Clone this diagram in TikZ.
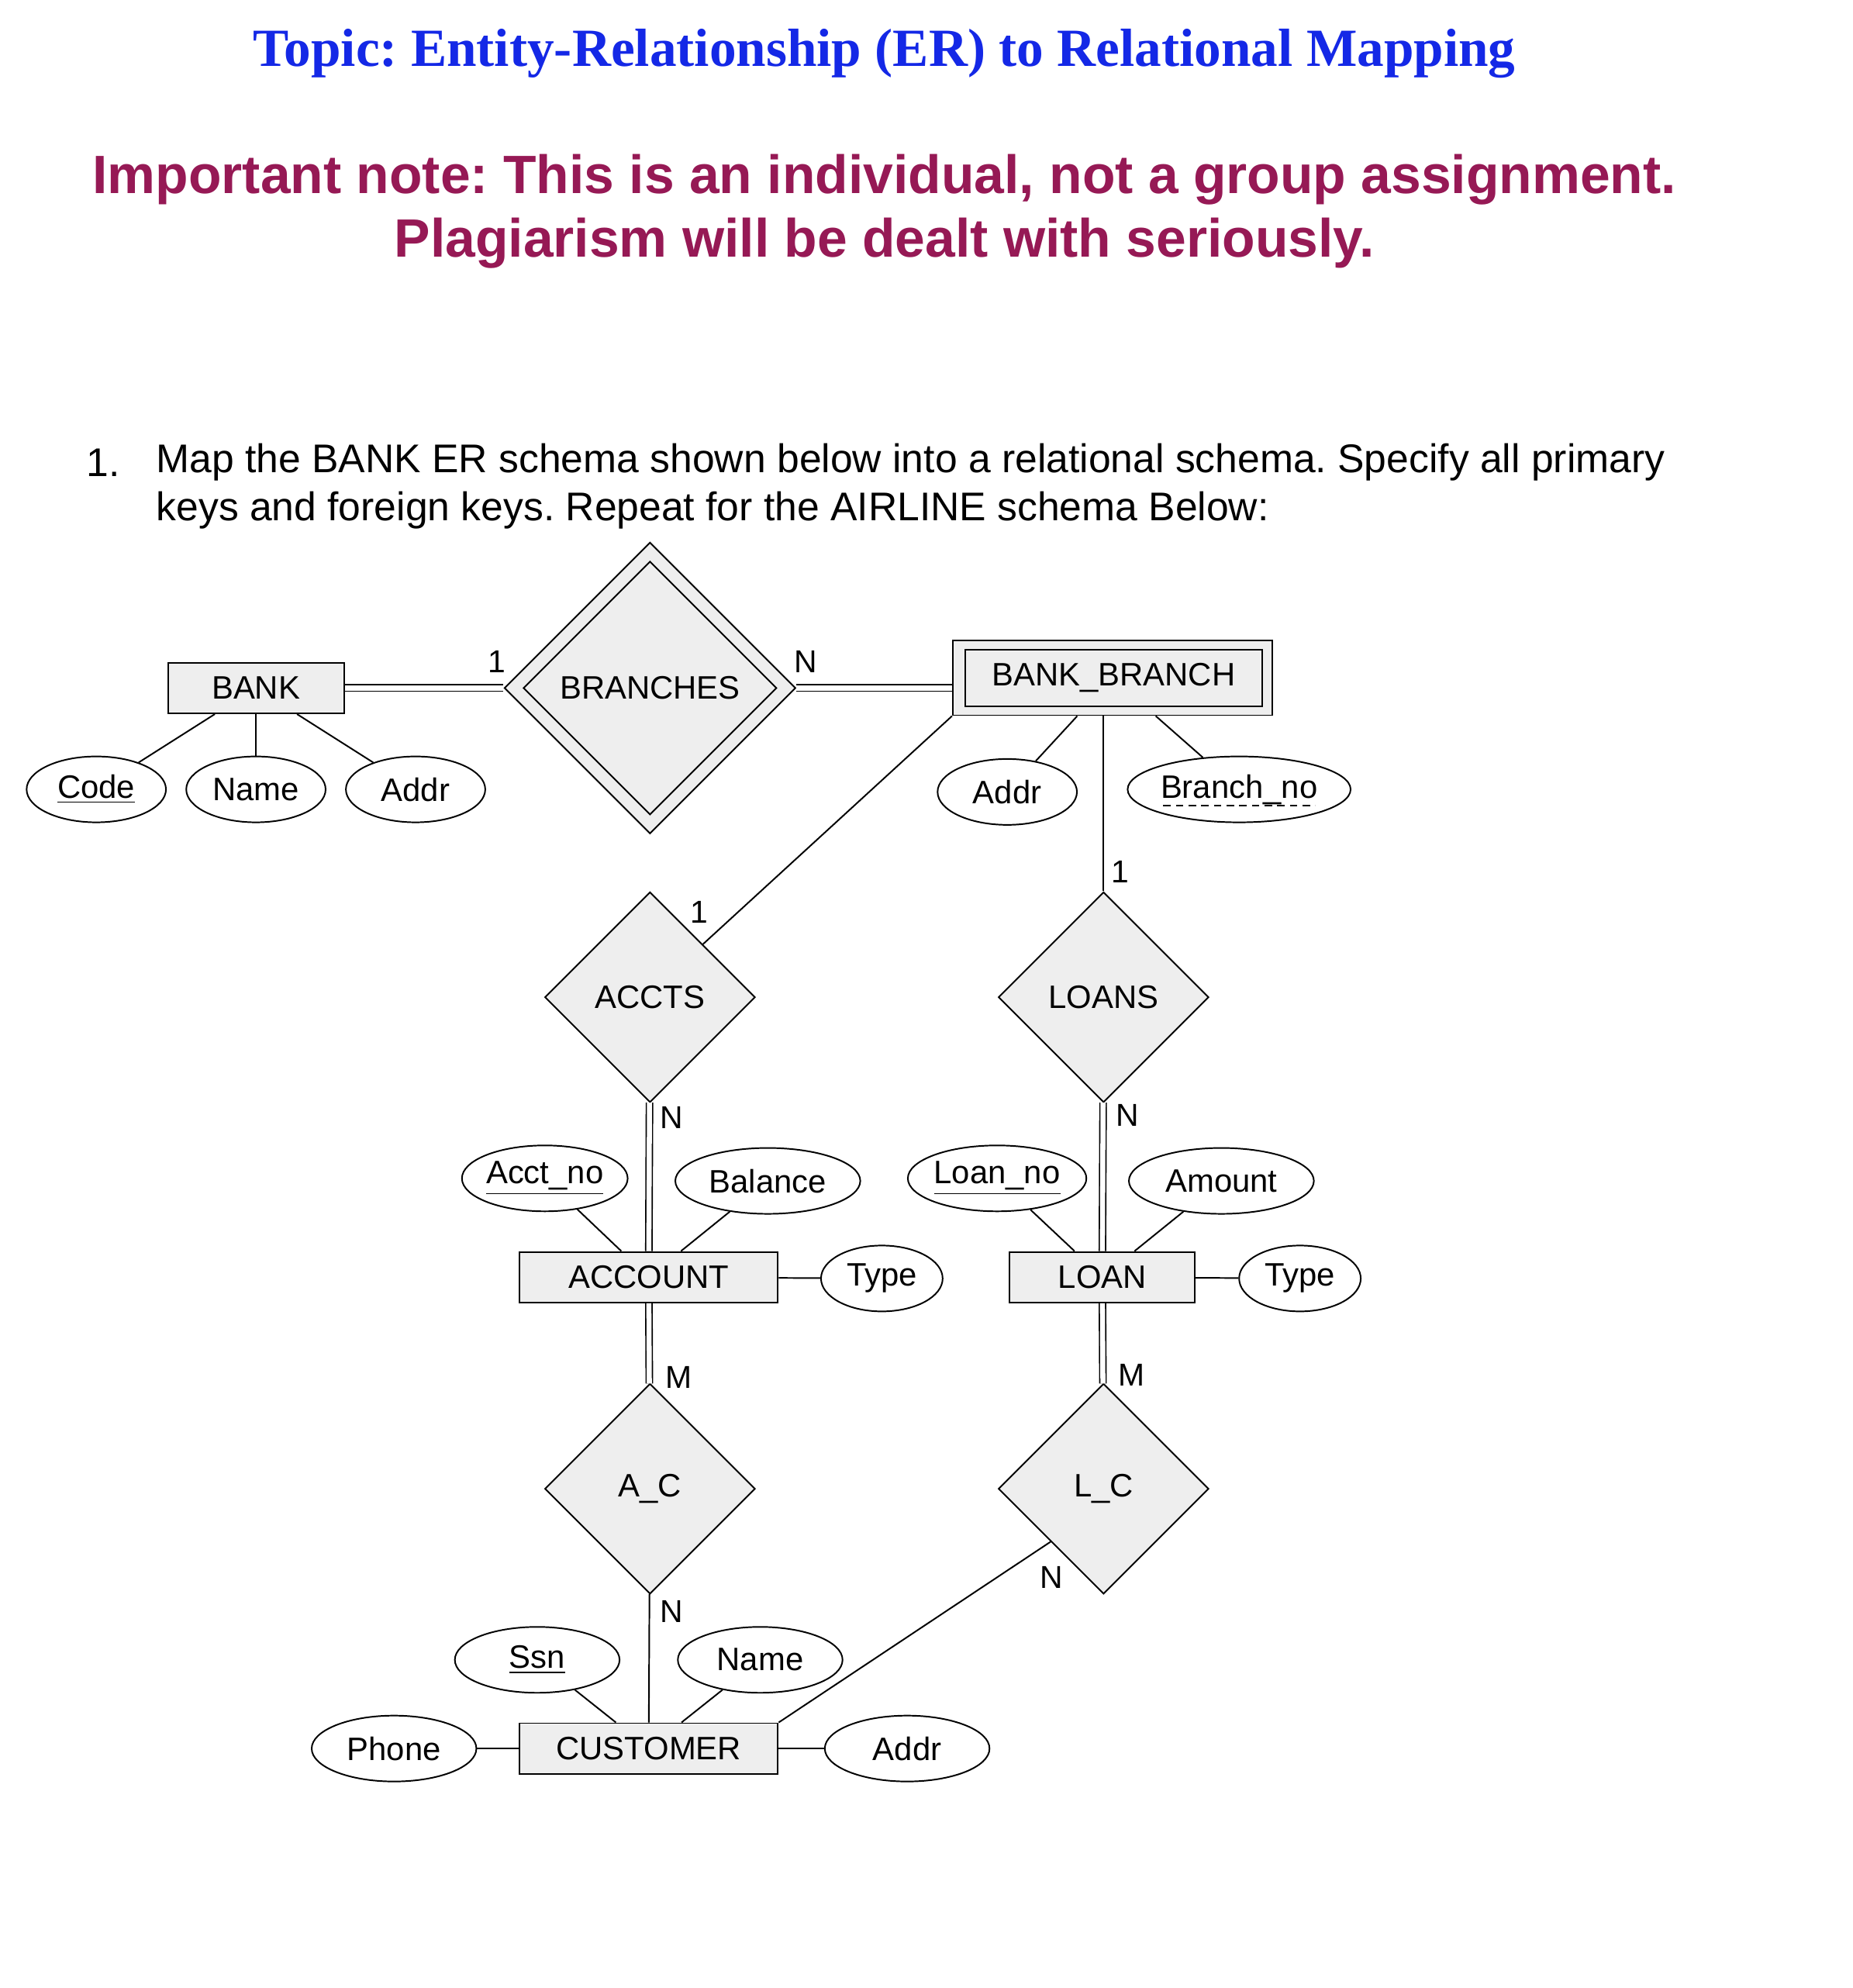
\documentclass[tikz,border=0pt]{standalone}
\usepackage{fontspec}
\setmainfont{Liberation Sans}
\newfontfamily\titlefont{Liberation Serif}
\usetikzlibrary{shapes.geometric}
\definecolor{ttl}{RGB}{20,40,230}
\definecolor{note}{RGB}{150,25,85}
\definecolor{shade}{RGB}{238,238,238}
\begin{document}
\frenchspacing
\begin{tikzpicture}[x=0.5pt,y=-0.5pt,
  every node/.style={font=\fontsize{12.8}{15}\selectfont},
  ent/.style={draw, fill=shade, line width=0.6pt, minimum height=20pt, inner sep=0pt},
  rel/.style={diamond, draw, fill=shade, line width=0.6pt, minimum width=83pt, minimum height=83pt, inner sep=0pt},
  attr/.style={ellipse, draw, line width=0.6pt, minimum height=26pt, inner sep=0pt},
  ln/.style={line width=0.6pt},
  dbl/.style={double, double distance=2pt, line width=0.5pt},
  card/.style={font=\fontsize{12.5}{15}\selectfont}]
\useasboundingbox (0,0) rectangle (1462,1569);
% texts
\node[font=\titlefont\bfseries\fontsize{21.2}{26}\selectfont, text=ttl] (title) at (698,42) {Topic: Entity-Relationship (ER) to Relational Mapping};
\node[font=\bfseries\fontsize{21.3}{25}\selectfont, text=note] (n1) at (698,142) {Important note: This is an individual, not a group assignment.};
\node[font=\bfseries\fontsize{21.3}{25}\selectfont, text=note] (n2) at (698,192) {Plagiarism will be dealt with seriously.};
\node[font=\fontsize{15.8}{19}\selectfont, anchor=west, inner sep=0pt] (num) at (68,365) {1.};
\node[font=\fontsize{15.8}{19}\selectfont, anchor=west, inner sep=0pt] (q1) at (123,365) {Map the BANK ER schema shown below into a relational schema. Specify all primary};
\node[font=\fontsize{15.8}{19}\selectfont, anchor=west, inner sep=0pt] (q2) at (123,403) {keys and foreign keys. Repeat for the AIRLINE schema Below:};
% entities
\node[ent, minimum width=69.5pt] (bank) at (202,543) {BANK};
\node[ent, minimum width=126pt, minimum height=29.5pt] (bbo) at (878,535) {};
\node[ent, minimum width=117pt, minimum height=22.5pt] (bb) at (879,535) {BANK\_BRANCH};
\node[ent, minimum width=102pt] (account) at (512,1008) {ACCOUNT};
\node[ent, minimum width=73pt] (loan) at (870,1008) {LOAN};
\node[ent, minimum width=102pt] (customer) at (512,1380) {CUSTOMER};
% relationships
\node[rel, minimum width=115pt, minimum height=115pt] (brancheso) at (513,543) {};
\node[rel, minimum width=100pt, minimum height=100pt] (branches) at (513,543) {BRANCHES};
\node[rel] (accts) at (513,787) {ACCTS};
\node[rel] (loans) at (871,787) {LOANS};
\node[rel] (ac) at (513,1175) {A\_C};
\node[rel] (lc) at (871,1175) {L\_C};
% attributes
\node[attr, minimum width=55pt] (code) at (76,623) {\underline{Code}};
\node[attr, minimum width=55pt] (bname) at (202,623) {Name};
\node[attr, minimum width=55pt] (baddr) at (328,623) {Addr};
\node[attr, minimum width=55pt] (bbaddr) at (795,625) {Addr};
\node[attr, minimum width=88pt] (bbno) at (978,623) {Branch\_no};
\draw[ln, dash pattern=on 3pt off 2pt] ([xshift=-30pt,yshift=-6.5pt]bbno.center) -- ([xshift=30pt,yshift=-6.5pt]bbno.center);
\node[attr, minimum width=65pt] (acctno) at (430,930) {\underline{Acct\_no}};
\node[attr, minimum width=73pt] (balance) at (606,932) {Balance};
\node[attr, minimum width=48pt] (atype) at (696,1009) {Type};
\node[attr, minimum width=65pt] (loanno) at (787,930) {\underline{Loan\_no}};
\node[attr, minimum width=73pt] (amount) at (964,932) {Amount};
\node[attr, minimum width=48pt] (ltype) at (1026,1009) {Type};
\node[attr, minimum width=65pt] (ssn) at (424,1310) {\underline{Ssn}};
\node[attr, minimum width=65pt] (cname) at (600,1310) {Name};
\node[attr, minimum width=65pt] (phone) at (311,1380) {Phone};
\node[attr, minimum width=65pt] (caddr) at (716,1380) {Addr};
% attribute lines
\draw[ln] (bank) -- (code);
\draw[ln] (bank) -- (bname);
\draw[ln] (bank) -- (baddr);
\draw[ln] (bbo) -- (bbaddr);
\draw[ln] (bbo) -- (bbno);
\draw[ln] (account) -- (acctno);
\draw[ln] (account) -- (balance);
\draw[ln] (account) -- (atype);
\draw[ln] (loan) -- (loanno);
\draw[ln] (loan) -- (amount);
\draw[ln] (loan) -- (ltype);
\draw[ln] (customer) -- (ssn);
\draw[ln] (customer) -- (cname);
\draw[ln] (customer) -- (phone);
\draw[ln] (customer) -- (caddr);
% relationship lines
\draw[dbl] (bank) -- (brancheso);
\draw[dbl] (brancheso.east) -- (brancheso.east -| bbo.west);
\draw[ln] (bbo.south west) -- (accts.north east);
\draw[ln] (bbo.south -| loans.north) -- (loans.north);
\draw[dbl] (accts) -- (account);
\draw[dbl] (loans) -- (loan);
\draw[dbl] (account) -- (ac);
\draw[dbl] (loan) -- (lc);
\draw[ln] (ac) -- (customer);
\draw[ln] (lc.south west) -- (customer.north east);
% cardinalities
\node[card] (c1) at (392,522) {1};
\node[card] (c2) at (636,522) {N};
\node[card] (c3) at (552,720) {1};
\node[card] (c4) at (884,688) {1};
\node[card] (c5) at (530,882) {N};
\node[card] (c6) at (890,880) {N};
\node[card] (c7) at (536,1087) {M};
\node[card] (c8) at (893,1085) {M};
\node[card] (c9) at (530,1272) {N};
\node[card] (c10) at (830,1245) {N};
\end{tikzpicture}
\end{document}
